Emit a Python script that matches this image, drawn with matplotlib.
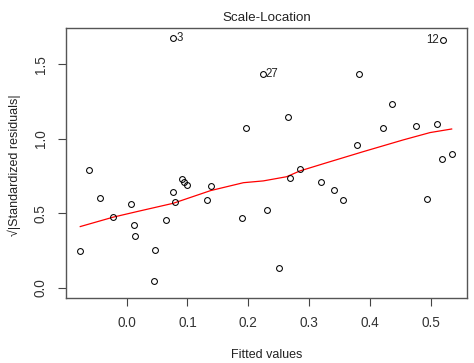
import matplotlib.pyplot as plt
import numpy as np

plt.rcParams['font.family'] = ['Liberation Sans', 'DejaVu Sans']

# === Datos ===
fitted = [-0.0763, -0.0615, -0.0434, -0.0225, 0.0076, 0.0115, 0.0132, 0.0444,
          0.0470, 0.0646, 0.0762, 0.0790, 0.0910, 0.0938, 0.0997, 0.1326,
          0.1380, 0.0770, 0.1900, 0.1966, 0.2239, 0.2313, 0.2505, 0.2656,
          0.2694, 0.2845, 0.3204, 0.3406, 0.3563, 0.3793, 0.3820, 0.4220,
          0.4368, 0.4758, 0.4934, 0.5099, 0.5194, 0.5207, 0.5347]
sqrt_std_resid = [0.246, 0.788, 0.604, 0.476, 0.565, 0.425, 0.347, 0.049,
                  0.253, 0.458, 0.644, 0.577, 0.731, 0.711, 0.693, 0.592,
                  0.682, 1.679, 0.469, 1.075, 1.437, 0.521, 0.134, 1.149,
                  0.740, 0.796, 0.710, 0.654, 0.587, 0.957, 1.433, 1.075,
                  1.236, 1.087, 0.598, 1.098, 0.867, 1.661, 0.897]

# curva suavizada (lowess)
smooth_x = [-0.0763, -0.0222, 0.0219, 0.0766, 0.138, 0.192, 0.2247, 0.263,
            0.285, 0.329, 0.389, 0.455, 0.499, 0.5345]
smooth_y = [0.412, 0.475, 0.517, 0.568, 0.653, 0.706, 0.718, 0.746,
            0.785, 0.840, 0.914, 0.993, 1.042, 1.066]

# puntos etiquetados: (índice en la lista, texto, lado)
labels = [(17, "3", "right"), (20, "27", "right"), (37, "12", "left")]

xticks = [0.0, 0.1, 0.2, 0.3, 0.4, 0.5]
yticks = [0.0, 0.5, 1.0, 1.5]

# === Figura ===
fig = plt.figure(figsize=(4.74, 3.63), dpi=100)
ax = fig.add_axes([0.1392, 0.179, 0.8460, 0.7439])

ax.plot(fitted, sqrt_std_resid, 'o', mfc='none', mec='black',
        ms=4.2, mew=0.75, zorder=3)
ax.plot(smooth_x, smooth_y, color='red', lw=0.9, zorder=2)

for i, txt, side in labels:
    dx = 2.2 if side == "right" else -3.2
    ax.annotate(txt, (fitted[i], sqrt_std_resid[i]), xytext=(dx, 0),
                textcoords='offset points', ha='left' if side == "right" else 'right',
                va='center', fontsize=8.3, color='#222222')

ax.set_xlim(-0.0998, 0.5597)
ax.set_ylim(-0.067, 1.743)
ax.set_xticks(xticks)
ax.set_xticklabels([f"{v:.1f}" for v in xticks])
ax.set_yticks(yticks)
ax.set_yticklabels([f"{v:.1f}" for v in yticks], rotation=90, va='center')

ax.tick_params(direction='out', length=5.8, width=0.8, color='#444444',
               labelsize=9.8, labelcolor='#333333')
ax.tick_params(axis='x', pad=7.5)
ax.tick_params(axis='y', pad=7.5)
for s in ax.spines.values():
    s.set_color('#555555')
    s.set_linewidth(1.0)

ax.set_title("Scale-Location", fontsize=9.6, color='#222222', pad=5)
fig.text(0.5622, 0.022, "Fitted values", ha='center', va='center',
         fontsize=9, color='#222222')
fig.text(0.03, 0.545, "√|Standardized residuals|", ha='center', va='center',
         rotation=90, fontsize=9, color='#222222')

fig.savefig("out.png", dpi=100)
